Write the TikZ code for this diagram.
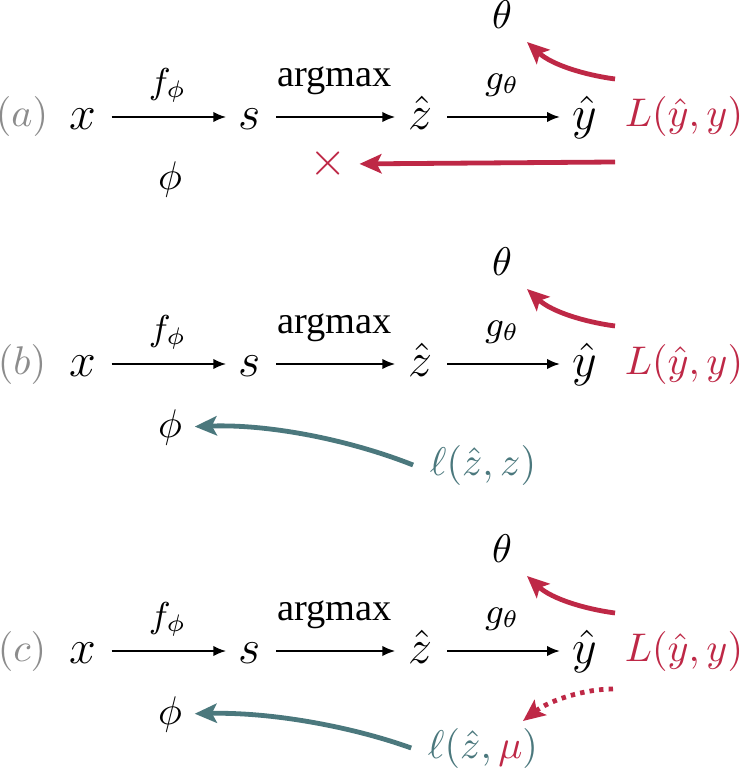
\documentclass[tikz,border=0pt]{standalone}
\usepackage{fontspec}
\setmainfont{Liberation Serif}
\usetikzlibrary{arrows.meta}
\definecolor{lred}{RGB}{190,40,70}
\definecolor{lteal}{RGB}{75,120,125}
\definecolor{lgray}{RGB}{140,140,140}
\begin{document}
\begin{tikzpicture}[x=0.25pt,y=-0.25pt,
  big/.style={inner sep=0pt, text height=9pt, text depth=2.6pt, font=\fontsize{13}{15}\selectfont},
  row/.style={inner sep=0pt, text height=7pt, text depth=2pt},
  sym/.style={inner sep=0pt},
  lbl/.style={inner sep=0pt, font=\small},
  amx/.style={inner sep=0pt, font=\fontsize{9.6}{11}\selectfont},
  fwd/.style={-{Latex[length=3.2pt,width=2.6pt]}, line width=0.5pt, shorten <=3.6pt, shorten >=3pt},
  back/.style={-{Stealth[length=5.5pt,width=4.8pt,inset=1.2pt]}, line width=1.2pt},
  redback/.style={back, draw=lred},
  tealback/.style={back, draw=lteal},
  dotback/.style={-{Stealth[length=5.5pt,width=4.8pt,inset=1.2pt]}, line width=1.2pt, draw=lred, dash pattern=on 1.1pt off 1.3pt}]
\useasboundingbox (0,0) rectangle (743,769);
\foreach \r/\Y in {a/117, b/364, c/651}{
  \node[row, text=lgray] (lab\r) at (22,\Y) {$(\r)$};
  \node[big] (x\r) at (83,\Y) {$x$};
  \node[big] (s\r) at (250,\Y) {$s$};
  \node[big] (z\r) at (420,\Y) {$\hat{z}$};
  \node[big] (y\r) at (585,\Y) {$\hat{y}$};
  \node[row, text=lred] (L\r) at (684,\Y) {$L(\hat{y},y)$};
  \draw[fwd] (x\r) -- node[lbl, midway, yshift=8pt] {$f_\phi$} (s\r);
  \draw[fwd] (s\r) -- node[amx, midway, yshift=9pt] {argmax} (z\r);
  \draw[fwd] (z\r) -- node[lbl, midway, yshift=8pt] {$g_\theta$} (y\r);
  \node[sym] (th\r) at (502,\Y-102) {$\theta$};
  \node[sym] (ph\r) at (170,\Y+63) {$\phi$};
  \coordinate (rs\r) at (615,\Y-38);
  \coordinate (rt\r) at (527,\Y-75);
  \draw[redback] (rs\r) .. controls (585,\Y-42) and (552,\Y-52) .. (rt\r);
}
% (a) blocked gradient
\node[text=lred, inner sep=0pt, font=\large] (cross) at (328,164) {$\times$};
\coordinate (ra) at (615,162);
\draw[redback] (ra) -- (cross.east) [shorten >=3pt];
% (b) surrogate loss
\node[row, text=lteal] (lb) at (483,465) {$\ell(\hat{z},z)$};
\draw[tealback] (lb.west) ++(-4pt,0pt) coordinate (tb) (tb) .. controls (350,440) and (270,424) .. (phb.east) [shorten >=3pt];
% (c) loss with mu
\node[row, text=lteal] (lc) at (483,748) {$\ell(\hat{z},{\color{lred}\mu})$};
\draw[tealback] (lc.west) ++(-4pt,0pt) coordinate (tc) (tc) .. controls (350,726) and (270,712) .. (phc.east) [shorten >=3pt];
\coordinate (dc) at (613,689);
\coordinate (dt) at (523,721);
\draw[dotback] (dc) .. controls (585,689) and (550,700) .. (dt);
\end{tikzpicture}
\end{document}
